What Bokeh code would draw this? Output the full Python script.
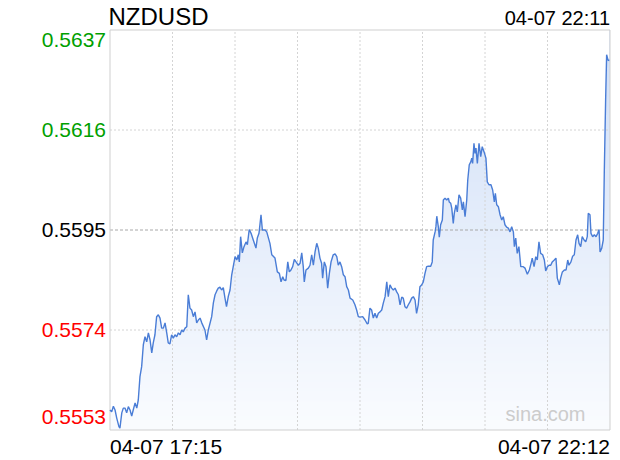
import numpy as np
from bokeh.plotting import figure
from bokeh.models import Range1d
from bokeh.core.properties import value
from bokeh.embed import file_html
from bokeh.resources import INLINE

# ---------------- data ----------------
symbol = "NZDUSD"
update_time = "04-07 22:11"
start_label = "04-07 17:15"
end_label = "04-07 22:12"
total_minutes = 297          # 17:15 -> 22:12
prev_close = 0.5595
y_ticks = [0.5637, 0.5616, 0.5595, 0.5574, 0.5553]
y_tick_labels = ["0.5637", "0.5616", "0.5595", "0.5574", "0.5553"]
watermark = "sina.com"

minutes = [
    0, 1.0, 2.0, 3.0, 4.0, 5.3, 5.9, 7.0, 7.9, 8.9,
    9.9, 10.9, 11.9, 12.9, 13.8, 14.9, 15.9, 16.8, 17.8, 18.8,
    19.8, 20.8, 21.8, 22.8, 23.8, 24.8, 25.7, 26.7, 27.7, 28.7,
    29.7, 30.7, 31.7, 32.7, 33.7, 34.6, 35.6, 36.6, 37.6, 38.6,
    39.6, 40.6, 41.6, 42.6, 43.5, 44.6, 45.6, 46.5, 47.5, 48.5,
    49.5, 50.5, 51.5, 52.5, 53.5, 54.5, 56.4, 57.4, 58.4, 60.4,
    61.4, 62.4, 63.4, 64.3, 65.3, 66.3, 67.3, 68.3, 69.2, 70.3,
    71.3, 72.3, 73.2, 74.3, 75.3, 76.2, 76.8, 77.6, 78.6, 79.6,
    80.8, 81.6, 82.7, 83.8, 85.1, 86.7, 87.5, 88.5, 89.7, 90.5,
    92.1, 93.1, 95.0, 96.1, 98.0, 99.4, 100.6, 101.6, 102.6, 103.4,
    104.5, 105.6, 106.5, 107.5, 108.5, 109.5, 110.5, 111.9, 112.9, 113.9,
    114.8, 115.4, 116.4, 117.8, 118.8, 119.8, 120.8, 121.8, 122.8, 123.7,
    124.7, 125.7, 126.3, 127.3, 128.3, 129.3, 130.3, 131.3, 132.6, 133.7,
    134.7, 135.6, 136.6, 137.6, 138.6, 139.6, 140.6, 141.6, 142.6, 144.2,
    145.5, 146.5, 147.5, 148.5, 150.1, 151.5, 152.8, 153.4, 154.4, 155.4,
    156.4, 157.4, 158.4, 159.4, 160.4, 161.4, 162.3, 163.4, 164.4, 165.3,
    166.3, 167.3, 168.3, 169.3, 170.3, 171.3, 172.3, 173.3, 174.2, 175.2,
    176.2, 177.2, 178.2, 179.2, 180.2, 181.2, 182.1, 183.1, 184.1, 185.2,
    186.1, 187.1, 188.1, 189.1, 190.5, 191.4, 192.0, 193.1, 193.6, 194.1,
    195.0, 195.6, 196.4, 197.4, 198.0, 199.0, 200.0, 201.0, 201.5, 202.4,
    203.0, 203.9, 204.5, 205.5, 206.3, 207.3, 208.3, 209.3, 209.9, 210.9,
    211.9, 212.5, 213.4, 214.3, 214.9, 215.4, 216.2, 216.8, 217.4, 218.2,
    219.2, 220.2, 221.1, 222.2, 223.3, 224.1, 225.1, 226.3, 227.3, 228.3,
    228.9, 229.7, 230.7, 231.7, 232.7, 233.6, 234.6, 235.6, 236.6, 237.6,
    238.6, 239.6, 240.2, 241.0, 241.9, 242.9, 244.0, 245.5, 246.5, 247.9,
    249.1, 250.1, 250.8, 251.9, 252.9, 253.8, 254.8, 255.8, 257.0, 258.0,
    258.8, 259.8, 260.8, 261.8, 262.7, 263.9, 264.9, 265.7, 266.9, 267.7,
    268.7, 269.9, 270.9, 271.9, 272.6, 273.8, 274.8, 275.8, 276.8, 277.8,
    278.6, 279.6, 280.5, 281.6, 282.6, 283.5, 284.1, 285.1, 285.7, 286.7,
    287.7, 288.7, 289.7, 290.5, 291.1, 292.1, 293.0, 293.6, 294.4, 295.0,
    295.8, 296.6,
]

prices = [
    0.55572, 0.55568, 0.55580, 0.55572, 0.55555, 0.55537, 0.55534, 0.55566, 0.55576, 0.55576,
    0.55566, 0.55579, 0.55572, 0.55559, 0.55572, 0.55587, 0.55576, 0.55593, 0.55642, 0.55663,
    0.55709, 0.55726, 0.55715, 0.55734, 0.55719, 0.55692, 0.55713, 0.55730, 0.55768, 0.55772,
    0.55765, 0.55744, 0.55744, 0.55755, 0.55734, 0.55713, 0.55711, 0.55730, 0.55723, 0.55730,
    0.55726, 0.55734, 0.55730, 0.55740, 0.55736, 0.55744, 0.55747, 0.55814, 0.55786, 0.55782,
    0.55768, 0.55778, 0.55755, 0.55761, 0.55765, 0.55755, 0.55740, 0.55719, 0.55740, 0.55768,
    0.55797, 0.55814, 0.55822, 0.55828, 0.55830, 0.55824, 0.55829, 0.55807, 0.55789, 0.55811,
    0.55824, 0.55856, 0.55873, 0.55894, 0.55887, 0.55898, 0.55883, 0.55936, 0.55902, 0.55915,
    0.55925, 0.55919, 0.55951, 0.55943, 0.55929, 0.55912, 0.55933, 0.55943, 0.55982, 0.55950,
    0.55950, 0.55946, 0.55922, 0.55898, 0.55891, 0.55862, 0.55859, 0.55841, 0.55852, 0.55845,
    0.55844, 0.55883, 0.55862, 0.55866, 0.55873, 0.55888, 0.55883, 0.55876, 0.55880, 0.55902,
    0.55873, 0.55841, 0.55866, 0.55870, 0.55876, 0.55898, 0.55876, 0.55904, 0.55922, 0.55912,
    0.55891, 0.55880, 0.55849, 0.55883, 0.55873, 0.55828, 0.55859, 0.55883, 0.55898, 0.55900,
    0.55894, 0.55876, 0.55883, 0.55873, 0.55856, 0.55852, 0.55831, 0.55824, 0.55807, 0.55803,
    0.55793, 0.55782, 0.55768, 0.55767, 0.55768, 0.55761, 0.55753, 0.55754, 0.55786, 0.55782,
    0.55765, 0.55775, 0.55765, 0.55775, 0.55778, 0.55782, 0.55796, 0.55810, 0.55841, 0.55810,
    0.55835, 0.55828, 0.55824, 0.55828, 0.55820, 0.55814, 0.55793, 0.55809, 0.55807, 0.55789,
    0.55786, 0.55793, 0.55799, 0.55807, 0.55810, 0.55803, 0.55775, 0.55793, 0.55831, 0.55835,
    0.55841, 0.55859, 0.55873, 0.55874, 0.55874, 0.55883, 0.55929, 0.55946, 0.55957, 0.55979,
    0.55957, 0.55935, 0.55961, 0.55971, 0.56013, 0.56017, 0.56013, 0.56017, 0.56009, 0.56006,
    0.55996, 0.55964, 0.55985, 0.56003, 0.55988, 0.56024, 0.56017, 0.55992, 0.56009, 0.55978,
    0.56013, 0.56055, 0.56087, 0.56093, 0.56101, 0.56090, 0.56132, 0.56111, 0.56122, 0.56090,
    0.56132, 0.56104, 0.56125, 0.56114, 0.56101, 0.56051, 0.56045, 0.56045, 0.56034, 0.56009,
    0.56027, 0.56003, 0.55999, 0.55982, 0.55971, 0.55978, 0.55961, 0.55956, 0.55954, 0.55946,
    0.55957, 0.55946, 0.55915, 0.55933, 0.55901, 0.55915, 0.55873, 0.55873, 0.55870, 0.55857,
    0.55866, 0.55880, 0.55891, 0.55873, 0.55894, 0.55887, 0.55925, 0.55901, 0.55898, 0.55887,
    0.55864, 0.55873, 0.55876, 0.55876, 0.55883, 0.55887, 0.55891, 0.55849, 0.55835, 0.55849,
    0.55862, 0.55866, 0.55866, 0.55887, 0.55876, 0.55883, 0.55895, 0.55898, 0.55929, 0.55940,
    0.55922, 0.55915, 0.55936, 0.55929, 0.55925, 0.55936, 0.55985, 0.55982, 0.55943, 0.55936,
    0.55940, 0.55936, 0.55943, 0.55951, 0.55904, 0.55912, 0.55929, 0.56069, 0.56223, 0.56318,
    0.56307, 0.56306,
]

n = min(len(minutes), len(prices))
minutes = minutes[:n]
prices = prices[:n]

# ---------------- layout (screen pixels) ----------------
FONT = "Liberation Sans"
W, H = 616, 458                    # canvas
PL, PR, PT, PB = 109.5, 609.5, 29.5, 429.5   # chart area on the canvas
y_lo, y_hi = min(y_ticks), max(y_ticks)
x_per_px = total_minutes / (PR - PL)
y_per_px = (y_hi - y_lo) / (PB - PT)

p = figure(
    width=W, height=H, min_border=0,
    x_axis_type=None, y_axis_type=None,
    x_range=Range1d(0 - PL * x_per_px, total_minutes + (W - PR) * x_per_px),
    y_range=Range1d(y_lo - (H - PB) * y_per_px, y_hi + PT * y_per_px),
    output_backend="svg", toolbar_location=None,
)
p.outline_line_color = None
p.background_fill_color = "white"
p.border_fill_color = "white"
p.xgrid.visible = False
p.ygrid.visible = False

# vertical gradient inside the chart area, masked above the price line
rows = 400
t = np.linspace(0, 1, rows)[:, None]          # 0 bottom -> 1 top
top_c = np.array([208, 223, 247])
bot_c = np.array([250, 252, 255])
cols = (bot_c + (top_c - bot_c) * t).astype(np.uint32)
img = np.zeros((rows, 1), dtype=np.uint32)
view = img.view(dtype=np.uint8).reshape((rows, 1, 4))
view[:, :, 0] = cols[:, 0:1]
view[:, :, 1] = cols[:, 1:2]
view[:, :, 2] = cols[:, 2:3]
view[:, :, 3] = 255
p.image_rgba(image=[img], x=0, y=y_lo, dw=total_minutes, dh=y_hi - y_lo)
p.varea(x=minutes, y1=prices, y2=[y_hi] * n, fill_color="white")

# grid lines
x_grid = [total_minutes * i / 8 for i in range(1, 8)]
p.segment(x0=x_grid, y0=[y_lo] * 7, x1=x_grid, y1=[y_hi] * 7,
          line_color="#d4d4d4", line_width=1, line_dash="2 2")
y_grid = [v for v in y_ticks[1:-1] if v != prev_close]
p.segment(x0=[0] * len(y_grid), y0=y_grid, x1=[total_minutes] * len(y_grid), y1=y_grid,
          line_color="#d4d4d4", line_width=1, line_dash="2 2")
p.segment(x0=[0], y0=[prev_close], x1=[total_minutes], y1=[prev_close],
          line_color="#a8a8a8", line_width=1, line_dash="3 2")

# chart frame
p.quad(left=[0], right=[total_minutes], bottom=[y_lo], top=[y_hi],
       fill_color=None, line_color="#cfcfcf", line_width=1)

# price line
p.line(minutes, prices, line_color="#4a7dd6", line_width=1.4)

# y tick labels (edge labels nudged inside the chart height)
for v, txt in zip(y_ticks, y_tick_labels):
    c = "#00a000" if v > prev_close else ("#ff0000" if v < prev_close else "#000000")
    dy = 9.7 if v == y_hi else (-13.5 if v == y_lo else 0)
    p.text(x=[0], y=[v], text=[txt], x_offset=-4, y_offset=dy, text_align="right",
           text_baseline="middle", text_color=c, text_font=value(FONT),
           text_font_size="21px")

# title, time stamps, watermark
p.text(x=[0], y=[y_hi], text=[symbol], x_offset=-1.5, y_offset=-13.8,
       text_align="left", text_baseline="middle", text_color="#000000",
       text_font=value(FONT), text_font_size="24px")
p.text(x=[total_minutes], y=[y_hi], text=[update_time], x_offset=0, y_offset=-12.4,
       text_align="right", text_baseline="middle", text_color="#000000",
       text_font=value(FONT), text_font_size="20px")
p.text(x=[0], y=[y_lo], text=[start_label], x_offset=0, y_offset=16.5,
       text_align="left", text_baseline="middle", text_color="#000000",
       text_font=value(FONT), text_font_size="21px")
p.text(x=[total_minutes], y=[y_lo], text=[end_label], x_offset=0, y_offset=16.5,
       text_align="right", text_baseline="middle", text_color="#000000",
       text_font=value(FONT), text_font_size="21px")
p.text(x=[total_minutes], y=[y_lo], text=[watermark], x_offset=-24.5, y_offset=-16.5,
       text_align="right", text_baseline="middle", text_color="#cccccc",
       text_font=value(FONT), text_font_size="20px")

open("out.html", "w").write(file_html(p, INLINE))
